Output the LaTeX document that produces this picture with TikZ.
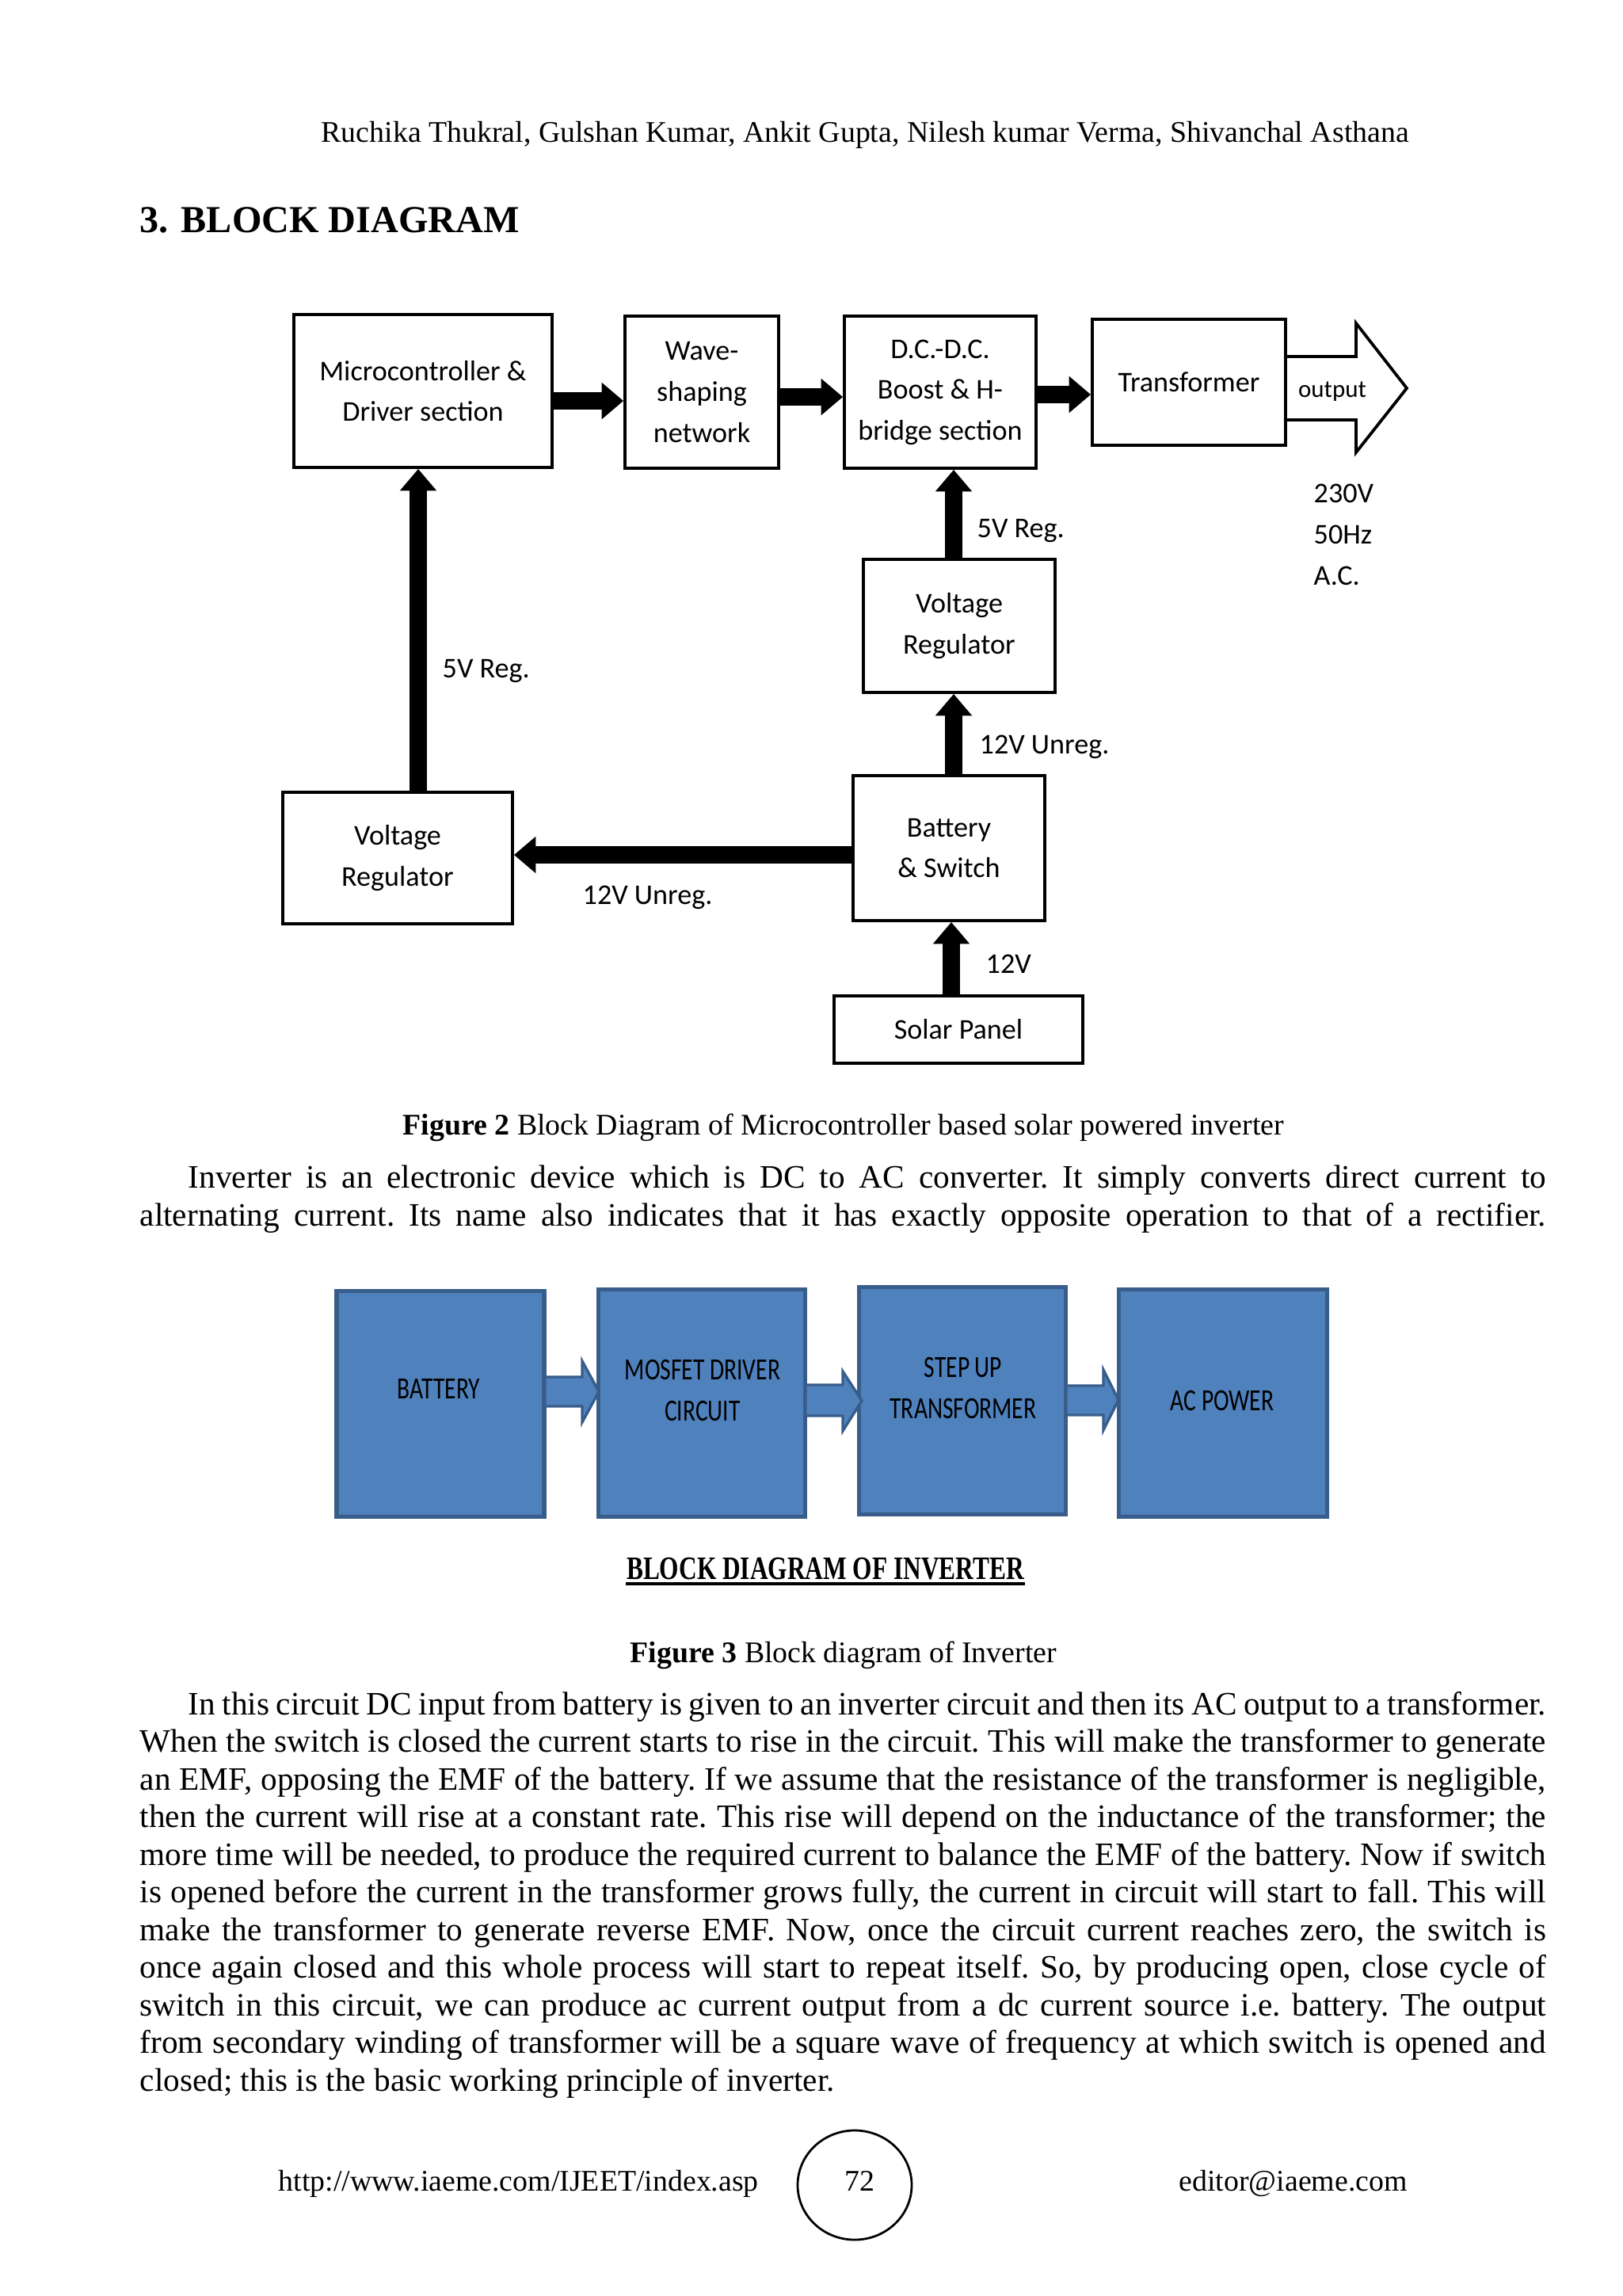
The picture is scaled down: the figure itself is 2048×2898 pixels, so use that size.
\documentclass[tikz,border=0pt]{standalone}
\usepackage{fontspec}
\setmainfont{Liberation Serif}
\newfontfamily\calfont{Carlito}
\newfontfamily\calcondfont[FakeStretch=0.76]{Carlito}
\newfontfamily\sercondfont[FakeStretch=0.76]{Liberation Serif}
\usetikzlibrary{arrows.meta,shapes.geometric}
\definecolor{blueA}{HTML}{4F81BD}
\definecolor{blueD}{HTML}{385D8A}
\def\u{0.29066pt}
\tikzset{
 blk/.style={draw, line width=1.1pt, inner sep=0pt, align=center, font=\calfont\fontsize{10.5}{15}\selectfont},
 lbl/.style={font=\calfont\fontsize{10.5}{15}\selectfont, inner sep=0pt, anchor=west, align=left},
 fat/.style={line width=6.5pt, -{Triangle[length=8pt,width=13pt]}},
 bluebox/.style={draw=blueD, fill=blueA, line width=1.6pt, inner sep=0pt},
 bluetxt/.style={font=\calcondfont\fontsize{11.3}{15.4}\selectfont, inner sep=0pt, align=center},
 barrow/.style={draw=blueD, fill=blueA, line width=1pt},
 body/.style={font=\frenchspacing\fontsize{12}{13.8}\selectfont, inner sep=0pt, anchor=base west},
 small/.style={font=\frenchspacing\fontsize{11}{13}\selectfont, inner sep=0pt, anchor=base west},
}
\begin{document}
\begin{tikzpicture}[x=0.29066pt, y=-0.29066pt]
\fill[white] (0,0) rectangle (2048,2898);
\useasboundingbox (0,0) rectangle (2048,2898);

% header
\node[small] (hdr) at (405,179) {Ruchika Thukral, Gulshan Kumar, Ankit Gupta, Nilesh kumar Verma, Shivanchal Asthana};
\node[body, font=\bfseries\fontsize{14}{16}\selectfont] (sec) at (176,293) {3. BLOCK DIAGRAM};

% ---------- Figure 2 ----------
\node[blk, minimum width=326*\u, minimum height=193*\u] (micro) at (534,493.5) {Microcontroller \&\\Driver section};
\node[blk, minimum width=194*\u, minimum height=192*\u] (wave) at (886,495) {Wave-\\shaping\\network};
\node[blk, minimum width=242*\u, minimum height=192*\u] (dcdc) at (1187,495) {D.C.-D.C.\\Boost \& H-\\bridge section};
\node[blk, minimum width=244*\u, minimum height=159*\u] (trans) at (1501,482.5) {Transformer};
\node[blk, minimum width=242*\u, minimum height=168*\u] (vr2) at (1211,790) {Voltage\\Regulator};
\node[blk, minimum width=242*\u, minimum height=183*\u] (bat) at (1198,1070.5) {Battery\\\& Switch};
\node[blk, minimum width=314*\u, minimum height=85*\u] (solar) at (1210,1299.5) {Solar Panel};
\node[blk, minimum width=290*\u, minimum height=166*\u] (vr1) at (502,1083) {Voltage\\Regulator};

% output arrow
\coordinate (oa) at (1623,450);
\coordinate (ob) at (1623,530);
\draw[line width=1.1pt, line join=miter] (oa) -- (1712,450) -- (1712,408) -- (1776,490) -- (1712,571) -- (1712,530) -- (ob);
\node[font=\calfont\fontsize{9}{11}\selectfont, inner sep=0pt] (outl) at (1682,494) {output};

% helper coordinates
\coordinate (r1) at (0,506);
\coordinate (r2) at (0,501);
\coordinate (r3) at (0,498);
\coordinate (r4) at (0,1079);
\coordinate (c1) at (1204,0);
\coordinate (c2) at (528,0);
\coordinate (c3) at (1201,0);

\draw[fat] (micro.east |- r1) -- (wave.west |- r1);
\draw[fat] (wave.east |- r2) -- (dcdc.west |- r2);
\draw[fat] (dcdc.east |- r3) -- (trans.west |- r3);
\draw[fat] (c1 |- vr2.north) -- (c1 |- dcdc.south);
\draw[fat] (c1 |- bat.north) -- (c1 |- vr2.south);
\draw[fat] (bat.west |- r4) -- (vr1.east |- r4);
\draw[fat] (c2 |- vr1.north) -- (c2 |- micro.south);
\draw[fat] (c3 |- solar.north) -- (c3 |- bat.south);

% labels
\node[lbl] (l5a) at (1233,670) {5V Reg.};
\node[lbl] (l5b) at (558,847) {5V Reg.};
\node[lbl] (l12a) at (1236,943) {12V Unreg.};
\node[lbl] (l12b) at (735,1133) {12V Unreg.};
\node[lbl] (l12) at (1244,1217) {12V};
\node[lbl, align=left] (lac) at (1658,675) {230V\\50Hz\\A.C.};

% caption 2
\node[small] (cap2) at (508,1432) {\textbf{Figure 2} Block Diagram of Microcontroller based solar powered inverter};

% paragraph 1
\node[body] (p1a) at (237,1499) {\makebox[498.3pt][s]{Inverter is an electronic device which is DC to AC converter. It simply converts direct current to}};
\node[body] (p1b) at (176,1547) {\makebox[516pt][s]{alternating current. Its name also indicates that it has exactly opposite operation to that of a rectifier.}};

% ---------- Figure 3 ----------
\node[bluebox, minimum width=262*\u, minimum height=285*\u] (bat3) at (556,1772) {};
\node[bluebox, minimum width=261*\u, minimum height=287*\u] (mos) at (886,1771) {};
\node[bluebox, minimum width=261*\u, minimum height=287*\u] (step) at (1215,1768) {};
\node[bluebox, minimum width=263*\u, minimum height=287*\u] (acp) at (1544,1771) {};
\node[bluetxt] (tbat) at (554,1753) {BATTERY};
\node[bluetxt] (tmos) at (887,1755) {MOSFET DRIVER\\CIRCUIT};
\node[bluetxt] (tstep) at (1216,1752) {STEP UP\\TRANSFORMER};
\node[bluetxt] (tacp) at (1543,1768) {AC POWER};

\draw[barrow] (688,1738) -- (735,1738) -- (735,1718) -- (756,1756.5) -- (735,1795) -- (735,1775) -- (688,1775) -- cycle;
\draw[barrow] (1017,1748) -- (1064,1748) -- (1064,1731) -- (1088,1768) -- (1064,1806) -- (1064,1787) -- (1017,1787) -- cycle;
\draw[barrow] (1346,1749) -- (1393,1749) -- (1393,1729) -- (1412,1767) -- (1393,1805) -- (1393,1786) -- (1346,1786) -- cycle;

\node[inner sep=0pt, anchor=base, font=\sercondfont\bfseries\fontsize{12}{14}\selectfont] (t3) at (1042,1993) {BLOCK DIAGRAM OF INVERTER};
\draw[line width=1pt] ([yshift=-1.8pt]t3.base west) -- ([yshift=-1.8pt]t3.base east);

% caption 3
\node[small] (cap3) at (795,2098) {\textbf{Figure 3} Block diagram of Inverter};

% paragraph 2
\node[body] (p2a) at (237,2164) {\makebox[498.3pt][s]{In this circuit DC input from battery is given to an inverter circuit and then its AC output to a transformer.}};
\node[body] (p2b) at (176,2211.5) {\makebox[516pt][s]{When the switch is closed the current starts to rise in the circuit. This will make the transformer to generate}};
\node[body] (p2c) at (176,2259) {\makebox[516pt][s]{an EMF, opposing the EMF of the battery. If we assume that the resistance of the transformer is negligible,}};
\node[body] (p2d) at (176,2306.5) {\makebox[516pt][s]{then the current will rise at a constant rate. This rise will depend on the inductance of the transformer; the}};
\node[body] (p2e) at (176,2354) {\makebox[516pt][s]{more time will be needed, to produce the required current to balance the EMF of the battery. Now if switch}};
\node[body] (p2f) at (176,2401.5) {\makebox[516pt][s]{is opened before the current in the transformer grows fully, the current in circuit will start to fall. This will}};
\node[body] (p2g) at (176,2449) {\makebox[516pt][s]{make the transformer to generate reverse EMF. Now, once the circuit current reaches zero, the switch is}};
\node[body] (p2h) at (176,2496.5) {\makebox[516pt][s]{once again closed and this whole process will start to repeat itself. So, by producing open, close cycle of}};
\node[body] (p2i) at (176,2544) {\makebox[516pt][s]{switch in this circuit, we can produce ac current output from a dc current source i.e. battery. The output}};
\node[body] (p2j) at (176,2591.5) {\makebox[516pt][s]{from secondary winding of transformer will be a square wave of frequency at which switch is opened and}};
\node[body] (p2k) at (176,2639) {closed; this is the basic working principle of inverter.};

% footer
\node[small] (url) at (351,2765) {http://www.iaeme.com/IJEET/index.asp};
\node[draw, ellipse, line width=0.8pt, minimum width=144*\u, minimum height=138*\u, inner sep=0pt] (pg) at (1079,2758) {};
\node[small, anchor=base] (pgn) at (1085,2765) {72};
\node[small] (mail) at (1488,2765) {editor@iaeme.com};
\end{tikzpicture}
\end{document}
